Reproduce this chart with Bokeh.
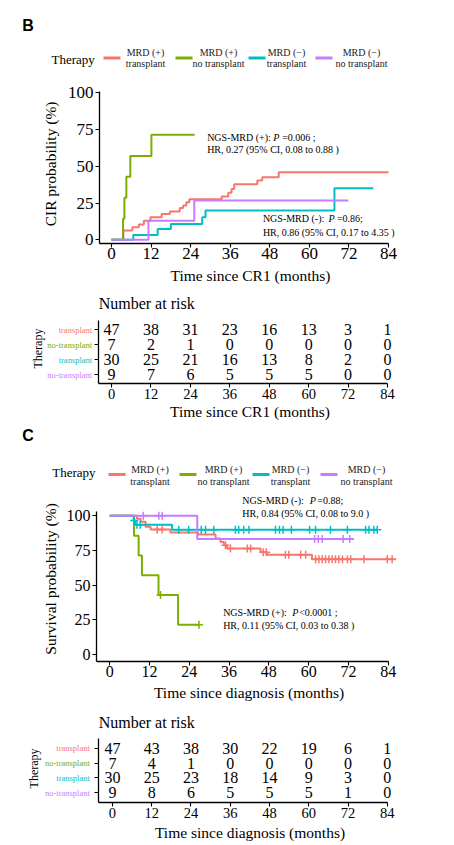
import numpy as np
from bokeh.plotting import figure
from bokeh.models import FixedTicker, ColumnDataSource, Range1d
from bokeh.layouts import column, row
from bokeh.embed import file_html
from bokeh.resources import INLINE
from bokeh.core.properties import value

SERIF = "Liberation Serif"
SANS = "Liberation Sans"
W = 454
LW = 94  # width of the risk-table row-label strip

# ---------------- data ----------------
colors = ["#F8766D", "#7CAE00", "#00BFC4", "#C77CFF"]
legend_line1 = ["MRD (+)", "MRD (+)", "MRD (\u2212)", "MRD (\u2212)"]
legend_line2 = ["transplant", "no transplant", "transplant", "no transplant"]
risk_labels = ["transplant", "no-transplant", "transplant", "no-transplant"]
time_ticks = [0, 12, 24, 36, 48, 60, 72, 84]
pct_ticks = [0, 25, 50, 75, 100]

# Panel B: cumulative incidence of relapse (%), months since CR1
cir_pos_tx_t = [0, 3.6, 6.3, 8.3, 9.8, 11.8, 15.2, 17.7, 20.7, 21.7, 22.7, 23.6, 33.4, 35.4, 36.4, 37.2, 44.2, 45.7, 50.7, 84.0]
cir_pos_tx_v = [0, 6.3, 8.5, 10.4, 13.0, 15.3, 17.5, 19.3, 21.6, 23.3, 25.5, 27.6, 29.5, 32.0, 34.5, 37.8, 40.3, 42.6, 46.0, 46.0]
cir_pos_notx_t = [0, 3.5, 3.9, 4.5, 5.7, 12.1, 25.2]
cir_pos_notx_v = [0, 14.3, 28.6, 42.9, 57.1, 71.4, 71.4]
cir_neg_tx_t = [0, 6.6, 14.0, 18.0, 27.5, 28.5, 67.6, 79.4]
cir_neg_tx_v = [0, 3.2, 7.3, 10.7, 15.4, 20.0, 35.0, 35.0]
cir_neg_notx_t = [0, 11.2, 25.1, 71.8]
cir_neg_notx_v = [0, 12.9, 26.8, 26.8]

# Panel C: overall survival (%), months since diagnosis
os_pos_tx_t = [0, 8.2, 9.3, 10.8, 12.3, 18.3, 26.6, 31.9, 33.4, 34.4, 35.4, 45.5, 47.5, 61.0, 86.2]
os_pos_tx_v = [100, 97.9, 95.7, 92.1, 90.1, 88.0, 86.6, 83.6, 81.1, 78.7, 76.4, 73.7, 71.9, 68.7, 68.7]
os_pos_tx_cens = [14.3, 15.8, 34.9, 36.4, 41.5, 42.5, 46.3, 47.2, 53.0, 54.0, 57.6, 59.1, 62.1, 63.1, 64.1,
                  65.1, 66.1, 67.1, 68.1, 69.1, 70.2, 71.7, 72.7, 76.7, 83.7, 85.2]
os_pos_notx_t = [0, 7.3, 8.7, 9.7, 14.7, 20.6, 26.9]
os_pos_notx_v = [100, 85.7, 71.4, 57.1, 42.9, 21.4, 21.4]
os_pos_notx_cens = [15.3, 26.9]
os_neg_tx_t = [0, 7.2, 7.7, 18.8, 80.9]
os_neg_tx_v = [100, 96.7, 93.6, 90.0, 90.0]
os_neg_tx_cens = [7.4, 8.2, 9.2, 20.8, 23.8, 27.6, 28.9, 31.4, 37.9, 38.9, 40.4, 42.0, 50.0, 51.2, 52.3,
                  54.8, 60.3, 62.1, 66.6, 71.7, 77.2, 78.2, 79.7, 80.7]
os_neg_notx_t = [0, 26.4, 73.7]
os_neg_notx_v = [100, 83.3, 83.3]
os_neg_notx_cens = [10.1, 14.8, 15.8, 61.8, 62.9, 64.1, 70.4, 72.4]

# Numbers at risk
risk_B_pos_tx = [47, 38, 31, 23, 16, 13, 3, 1]
risk_B_pos_notx = [7, 2, 1, 0, 0, 0, 0, 0]
risk_B_neg_tx = [30, 25, 21, 16, 13, 8, 2, 0]
risk_B_neg_notx = [9, 7, 6, 5, 5, 5, 0, 0]
risk_C_pos_tx = [47, 43, 38, 30, 22, 19, 6, 1]
risk_C_pos_notx = [7, 4, 1, 0, 0, 0, 0, 0]
risk_C_neg_tx = [30, 25, 23, 18, 14, 9, 3, 0]
risk_C_neg_notx = [9, 8, 6, 5, 5, 5, 1, 0]

# Annotation texts
annB_pos = ["NGS-MRD (+): ", "P", "=0.006 ;", "HR, 0.27 (95% CI, 0.08 to 0.88 )"]
annB_neg = ["NGS-MRD (-): ", "P", "=0.86;", "HR, 0.86 (95% CI, 0.17 to 4.35 )"]
annC_neg = ["NGS-MRD (-): ", "P", "=0.88;", "HR, 0.84 (95% CI, 0.08 to 9.0 )"]
annC_pos = ["NGS-MRD (+): ", "P", "<0.0001 ;", "HR, 0.11 (95% CI, 0.03 to 0.38 )"]


def level_at(ts, vs, t):
    i = int(np.searchsorted(np.asarray(ts), t, side="right")) - 1
    return vs[max(i, 0)]


def blank(p):
    p.outline_line_color = None
    p.background_fill_color = "white"
    p.border_fill_color = "white"
    return p


def make_header(letter, h, letter_x, letter_y, therapy_x, therapy_y, line_x0, line_y, label_cx, lab1_y, lab2_y):
    p = figure(width=W, height=h, x_range=Range1d(0, W), y_range=Range1d(h, 0),
               x_axis_type=None, y_axis_type=None, min_border=0, frame_align=False,
               output_backend="svg", toolbar_location=None)
    blank(p)
    p.text(x=[letter_x], y=[letter_y], text=[letter], text_font=value(SANS), text_font_style="bold",
           text_font_size="16px", text_baseline="middle", text_align="left", text_color="black")
    p.text(x=[therapy_x], y=[therapy_y], text=["Therapy"], text_font=value(SERIF),
           text_font_size="13px", text_baseline="middle", text_align="left", text_color="black")
    src = ColumnDataSource(dict(x0=line_x0, x1=[x + 17 for x in line_x0], y=[line_y] * 4, c=colors,
                                cx=label_cx, t1=legend_line1, t2=legend_line2,
                                y1=[lab1_y] * 4, y2=[lab2_y] * 4))
    p.segment(x0="x0", y0="y", x1="x1", y1="y", line_color="c", line_width=3, source=src)
    for ty, tt in (("y1", "t1"), ("y2", "t2")):
        p.text(x="cx", y=ty, text=tt, source=src, text_font=value(SERIF), text_font_size="10px",
               text_align="center", text_baseline="middle", text_color="#222222")
    return p


def style_axis(ax, tick_fs, title_fs, label_standoff, title_standoff):
    ax.axis_line_color = "black"
    ax.axis_line_width = 1.3
    ax.major_tick_line_color = "black"
    ax.major_tick_line_width = 1.1
    ax.major_tick_in = 0
    ax.major_tick_out = 4
    ax.minor_tick_line_color = None
    ax.major_label_text_font = SERIF
    ax.major_label_text_font_size = tick_fs
    ax.major_label_text_color = "black"
    ax.major_label_standoff = label_standoff
    ax.axis_label_text_font = SERIF
    ax.axis_label_text_font_style = "normal"
    ax.axis_label_text_font_size = title_fs
    ax.axis_label_text_color = "black"
    ax.axis_label_standoff = title_standoff


def annotate(p, ann, x, y1, y2, p_off, rest_off):
    common = dict(text_font=value(SERIF), text_font_size="10px", text_baseline="middle",
                  text_align="left", text_color="black")
    p.text(x=[x], y=[y1], text=[ann[0]], **common)
    p.text(x=[x], y=[y1], text=[ann[1]], x_offset=p_off, text_font_style="italic", **common)
    p.text(x=[x], y=[y1], text=[ann[2]], x_offset=rest_off, **common)
    p.text(x=[x], y=[y2], text=[ann[3]], **common)


def make_plot(h, xr, yr, mbl, mbr, mbt, mbb, xb, yb, xlabel, ylabel, tick_fs, xs1, xs2, ys2):
    p = figure(width=W, height=h, x_range=Range1d(*xr), y_range=Range1d(*yr),
               min_border_left=mbl, min_border_right=mbr, min_border_top=mbt, min_border_bottom=mbb,
               frame_align=False, output_backend="svg", toolbar_location=None)
    blank(p)
    p.grid.visible = False
    p.xaxis.ticker = FixedTicker(ticks=time_ticks)
    p.yaxis.ticker = FixedTicker(ticks=pct_ticks)
    p.xaxis.bounds = xb
    p.yaxis.bounds = yb
    p.xaxis.axis_label = xlabel
    p.yaxis.axis_label = ylabel
    style_axis(p.xaxis[0], tick_fs, "15.5px", xs1, xs2)
    style_axis(p.yaxis[0], tick_fs, "15.5px", 2, ys2)
    return p


def make_risk(h, xr, yr, mbb, xb, yb, rows, xlabel, xs2, title_y, therapy_x, therapy_y, lab_right):
    y_range = Range1d(*yr)
    # strip with coloured row labels and the rotated "Therapy" title
    lf = figure(width=LW, height=h, x_range=Range1d(0, LW), y_range=y_range,
                x_axis_type=None, y_axis_type=None, min_border_left=0, min_border_right=0,
                min_border_top=0, min_border_bottom=mbb, frame_align=False,
                output_backend="svg", toolbar_location=None)
    blank(lf)
    lf.text(x=[lab_right] * 4, y=[4, 3, 2, 1], text=risk_labels, text_color=colors,
            text_align="right", text_baseline="middle", text_font=value(SERIF), text_font_size="8.5px")
    lf.text(x=[therapy_x], y=[therapy_y], text=["Therapy"], angle=np.pi / 2, text_align="center",
            text_baseline="middle", text_font=value(SERIF), text_font_size="12px", text_color="black")
    # the table itself
    p = figure(width=W - LW, height=h, x_range=Range1d(*xr), y_range=y_range,
               min_border_left=4, min_border_right=53, min_border_top=0, min_border_bottom=mbb,
               frame_align=False, output_backend="svg", toolbar_location=None)
    blank(p)
    p.grid.visible = False
    p.xaxis.ticker = FixedTicker(ticks=time_ticks)
    p.xaxis.bounds = xb
    p.xaxis.axis_label = xlabel
    style_axis(p.xaxis[0], "14.5px", "15.5px", 1, xs2)
    p.yaxis.ticker = FixedTicker(ticks=[1, 2, 3, 4])
    p.yaxis.major_label_overrides = {1: "", 2: "", 3: "", 4: ""}
    style_axis(p.yaxis[0], "10px", "12px", 0, 0)
    p.yaxis.bounds = yb
    p.text(x=[xr[0] + 0.05], y=[title_y], text=["Number at risk"], text_font=value(SERIF),
           text_font_size="16px", text_align="left", text_baseline="middle", text_color="black")
    for i, r in enumerate(rows):
        yv = 4 - i
        p.text(x=time_ticks, y=[yv] * len(time_ticks), text=[str(v) for v in r],
               text_font=value(SERIF), text_font_size="16px", text_align="center",
               text_baseline="middle", text_color="black")
    return row(lf, p, spacing=0)


# ---------------- Panel B ----------------
hB = make_header("B", 80, 21.7, 24.7, 51, 59, [103, 175, 248, 315], 57.5, [145, 218, 286, 361], 51.5, 62.5)

pB = make_plot(210, (-3.64, 87.93), (-2.52, 108.4), 99, 53, 0, 47, (-3.64, 84), (-2.52, 101.1),
               "Time since CR1 (months)", "CIR  probability (%)", "17px", 0, 5, 6)
cir_series = [(cir_pos_tx_t, cir_pos_tx_v), (cir_pos_notx_t, cir_pos_notx_v),
              (cir_neg_tx_t, cir_neg_tx_v), (cir_neg_notx_t, cir_neg_notx_v)]
for (t, v), c in zip(cir_series, colors):
    pB.step(x=t, y=v, mode="after", line_color=c, line_width=2)
annotate(pB, annB_pos, 29.0, 69.8, 61.2, 66, 75)
annotate(pB, annB_neg, 45.9, 14.3, 4.8, 65.5, 74)

rB = make_risk(132, (-3.96, 88.25), (0.4, 6.6), 39, (-3.96, 84), (0.4, 4.6),
               [risk_B_pos_tx, risk_B_pos_notx, risk_B_neg_tx, risk_B_neg_notx],
               "Time since CR1 (months)", 1, 5.73, 37, 2.73, 91.7)

# ---------------- Panel C ----------------
hC = make_header("C", 68, 21.7, 13, 51.7, 49.7, [108, 179, 252, 320], 52, [149.5, 223, 290, 366], 47.3, 59)

pC = make_plot(215, (-4.01, 88.02), (-5.05, 116.8), 96, 53, 2, 44, (-4.01, 84), (-5.05, 103),
               "Time since diagnosis (months)", "Survival  probability (%)", "16px", 0, 4, 5)
os_series = [(os_pos_tx_t, os_pos_tx_v, os_pos_tx_cens), (os_pos_notx_t, os_pos_notx_v, os_pos_notx_cens),
             (os_neg_tx_t, os_neg_tx_v, os_neg_tx_cens), (os_neg_notx_t, os_neg_notx_v, os_neg_notx_cens)]
for (t, v, cens), c in zip(os_series, colors):
    pC.step(x=t, y=v, mode="after", line_color=c, line_width=2)
    pC.scatter(x=cens, y=[level_at(t, v, ct) for ct in cens], marker="cross", size=8,
               line_color=c, line_width=1.5)
annotate(pC, annC_neg, 40.0, 111.2, 101.6, 67.5, 75)
annotate(pC, annC_pos, 34.2, 30.5, 20.9, 69, 76)

rC = make_risk(140, (-4.25, 88.34), (0.348, 6.87), 43, (-4.25, 84), (0.348, 4.63),
               [risk_C_pos_tx, risk_C_pos_notx, risk_C_neg_tx, risk_C_neg_notx],
               "Time since diagnosis (months)", 3, 5.75, 33.3, 2.64, 89.3)

layout = column(hB, pB, rB, hC, pC, rC, spacing=0)
open("out.html", "w").write(file_html(layout, INLINE))
